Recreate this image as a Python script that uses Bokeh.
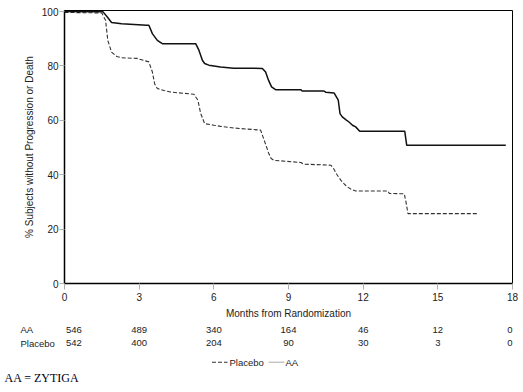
from bokeh.plotting import figure
from bokeh.models import Range1d, FixedTicker
from bokeh.core.properties import value
from bokeh.embed import file_html
from bokeh.resources import INLINE

# ---- data ----
aa_months = [0, 1.55, 1.72, 1.89, 2.3, 3.3, 3.39, 3.53, 3.73, 3.93, 5.27, 5.4, 5.54, 5.63, 5.8, 6.27, 6.8,
             7.95, 8.08, 8.2, 8.32, 8.48, 9.49, 9.55, 10.43, 10.5, 10.83, 11.0, 11.07, 11.16, 11.3, 11.43,
             11.57, 11.7, 11.86, 13.67, 13.75, 17.73]
aa_pct = [100, 99.9, 98, 96, 95.5, 95, 95, 91.9, 89.4, 88.2, 88.2, 85.8, 82.1, 80.9, 80.3, 79.6, 79.2,
          79.1, 77.8, 74.7, 72.3, 71.3, 71.3, 70.8, 70.8, 70.3, 70.1, 67.4, 62.5, 61.3, 60.3, 59.4,
          58.2, 57.6, 56, 56, 50.8, 50.8]

pbo_months = [0, 1.5, 1.58, 1.65, 1.74, 1.89, 2.1, 2.3, 2.9, 3.2, 3.39, 3.53, 3.62, 3.73, 4.0, 4.26,
              5.2, 5.36, 5.47, 5.63, 6.0, 6.27, 6.8, 7.88, 8.05, 8.2, 8.3, 8.42, 9.5, 9.6, 10.7, 10.8,
              10.95, 11.1, 11.25, 11.37, 11.55, 11.7, 13.0, 13.05, 13.65, 13.72, 13.8, 16.57]
pbo_pct = [99.7, 99.5, 98, 96.8, 89.4, 85.1, 83.5, 83, 82.8, 82, 81.5, 77.8, 73.5, 71.7, 71, 70.4,
           69.6, 67.4, 62.6, 58.8, 58.2, 57.8, 57.2, 56.4, 52, 48, 46, 45.3, 44.5, 43.9, 43.5, 42.5,
           40, 38, 36.5, 35.5, 34.5, 34, 34, 33.1, 33, 30, 25.7, 25.7]

risk_months = [0, 3, 6, 9, 12, 15, 18]
risk_aa = [546, 489, 340, 164, 46, 12, 0]
risk_pbo = [542, 400, 204, 90, 30, 3, 0]
row_names = ["AA", "Placebo"]
series_names = ["Placebo", "AA"]
footnote = "AA = ZYTIGA"

x_ticks = [0, 3, 6, 9, 12, 15, 18]
y_ticks = [0, 20, 40, 60, 80, 100]

FONT = "Liberation Sans"
TXT = "#222222"
PBO_STYLE = dict(line_color="#333333", line_width=1.1, line_dash="4 2")

# ---------------- main KM plot ----------------
W = 523
LEFT, FRAME_W, TOP, FRAME_H = 64, 448, 10, 273
MAIN_H = 322
p = figure(width=W, height=MAIN_H, output_backend="svg", toolbar_location=None,
           x_range=Range1d(0, 18), y_range=Range1d(0, 100.4),
           frame_width=FRAME_W, frame_height=FRAME_H,
           min_border_left=LEFT, min_border_right=W - LEFT - FRAME_W, min_border_top=TOP,
           min_border_bottom=MAIN_H - TOP - FRAME_H)
p.background_fill_color = "white"
p.border_fill_color = "white"
p.outline_line_color = "black"
p.outline_line_width = 1
p.xgrid.visible = False
p.ygrid.visible = False

for ax in (p.xaxis[0], p.yaxis[0]):
    ax.axis_line_color = "black"
    ax.axis_line_width = 1.5
    ax.major_tick_line_color = "#b0b0b0"
    ax.major_tick_in = 0
    ax.minor_tick_line_color = None
    ax.major_label_text_font = FONT
    ax.major_label_text_font_size = "10px"
    ax.major_label_text_color = TXT
    ax.axis_label_text_font = FONT
    ax.axis_label_text_font_size = "10px"
    ax.axis_label_text_font_style = "normal"
    ax.axis_label_text_color = TXT

p.xaxis.ticker = FixedTicker(ticks=x_ticks)
p.yaxis.ticker = FixedTicker(ticks=y_ticks)
p.xaxis.major_tick_out = 6
p.yaxis.major_tick_out = 5
p.xaxis.major_label_standoff = 3
p.yaxis.major_label_standoff = 1
p.xaxis.axis_label = "Months from Randomization"
p.yaxis.axis_label = "% Subjects without Progression or Death"
p.xaxis.axis_label_standoff = 4
p.yaxis.axis_label_standoff = 4

p.line(pbo_months, pbo_pct, **PBO_STYLE)
p.line(aa_months, aa_pct, line_color="#111111", line_width=1.5)

# ---------------- risk table, legend, footnote (full-width panel) ----------------
TAB_H = 392 - MAIN_H
ppm = FRAME_W / 18.0                       # pixels per month, same as the main plot
t = figure(width=W, height=TAB_H, output_backend="svg", toolbar_location=None,
           x_range=Range1d(-LEFT / ppm, (W - LEFT) / ppm), y_range=Range1d(0, TAB_H),
           x_axis_location=None, y_axis_location=None,
           min_border=0, min_border_left=0, min_border_right=0,
           min_border_top=0, min_border_bottom=0)
t.outline_line_color = None
t.xgrid.visible = False
t.ygrid.visible = False
t.background_fill_color = "white"
t.border_fill_color = "white"


def px(page_x):
    """page pixel x -> month coordinate of this panel"""
    return (page_x - LEFT) / ppm


def txt(xs, ys, texts, align, size="9.5px", font=FONT, color=TXT):
    t.text(x=xs, y=ys, text=texts, text_font=value(font), text_font_size=size,
           text_baseline="middle", text_align=align, text_color=color)


row_y = [TAB_H - 7, TAB_H - 20.7]
for name, vals, yy in zip(row_names, (risk_aa, risk_pbo), row_y):
    txt([px(20)], [yy], [name], "left")
    txt([risk_months[0] + 0.06], [yy], [str(vals[0])], "left")
    mids = risk_months[1:-1]
    txt(mids, [yy] * len(mids), [str(v) for v in vals[1:-1]], "center")
    txt([risk_months[-1]], [yy], [str(vals[-1])], "right")

# legend
leg_y = TAB_H - 39.7
t.segment(x0=[px(211.5)], y0=[leg_y], x1=[px(227)], y1=[leg_y], **PBO_STYLE)
txt([px(229)], [leg_y], [series_names[0]], "left")
t.segment(x0=[px(268)], y0=[leg_y], x1=[px(284)], y1=[leg_y], line_color="#aaaaaa", line_width=1)
txt([px(285)], [leg_y], [series_names[1]], "left")

# footnote
txt([px(4)], [TAB_H - 55.5], [footnote], "left", size="12px", font="Liberation Serif", color="#000020")

open("out.html", "w").write(file_html([p, t], INLINE))
